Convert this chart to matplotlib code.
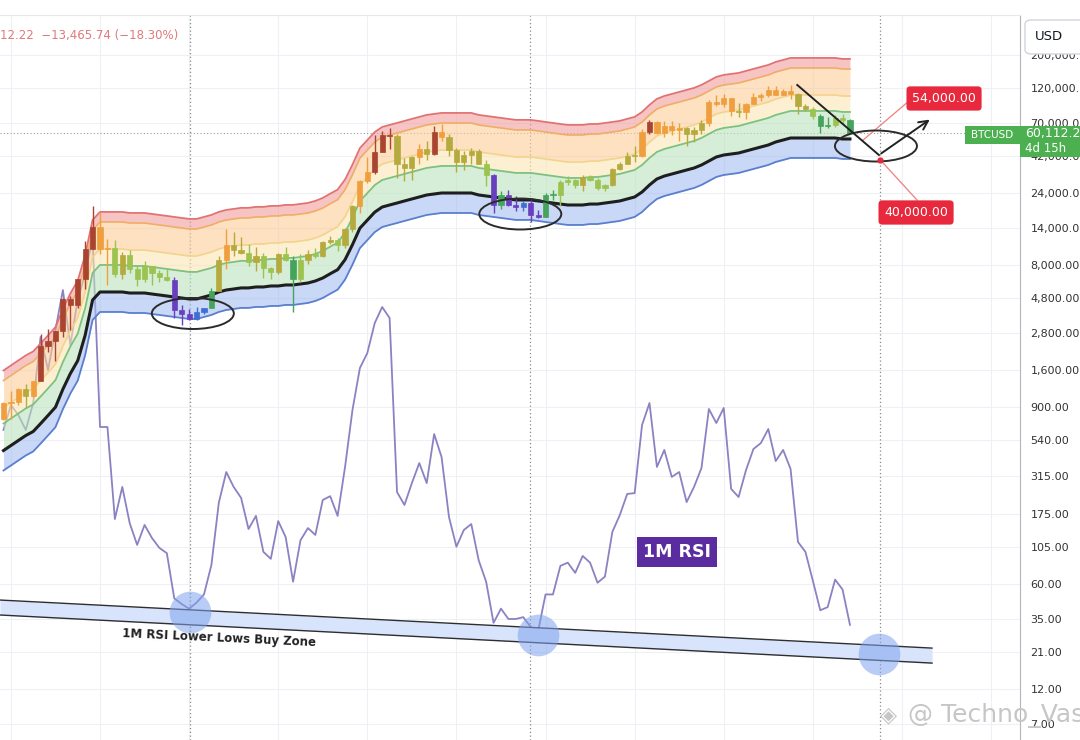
import numpy as np
import matplotlib.pyplot as plt
from matplotlib.patches import Ellipse, Rectangle, FancyBboxPatch
from matplotlib.transforms import ScaledTranslation
from matplotlib.ticker import NullLocator

plt.rcParams["font.family"] = ["DejaVu Sans"]

# monthly bars, 0 = Jan 2018 (Dec 2016 = -13 ... Jun 2026 = 101)
month = np.arange(-13, 102)

opens = [746, 964, 971, 1190, 1071, 1348, 2286, 2480, 2875, 4703, 4338, 6468, 10233,
         14156, 10221, 10397, 6973, 9240, 7494, 6404, 7780, 7037, 6626, 6318, 4017,
         3742, 3457, 3854, 4105, 5350, 8574, 10818, 10085, 9630, 8293, 9199, 7569,
         7193, 9350, 8544, 6424, 8630, 9448, 9138, 11351, 11681, 10785, 13805, 19713,
         28990, 33110, 45160, 58740, 57720, 37300, 35040, 41460, 47100, 43790, 61300, 57000,
         46210, 38480, 43160, 45510, 37630, 31790, 19930, 23310, 20050, 19430, 20490, 17170,
         16540, 23130, 23140, 28480, 29250, 27210, 30480, 29230, 25940, 26960, 34640, 37720,
         42280, 42580, 61130, 71330, 60640, 67490, 62680, 64620, 58970, 63330, 70220, 96450,
         93430, 102400, 84370, 82550, 94200, 104600, 107200, 115800, 108300, 114000, 109600, 90400,
         87500, 78000, 67500, 68500, 76000, 73578]
highs = [980, 1150, 1210, 1290, 1350, 2760, 2980, 2900, 4770, 4980, 6470, 11500, 19800,
         17700, 11800, 11700, 9760, 9990, 7780, 8500, 7800, 7400, 7500, 6580, 4300,
         4070, 4200, 4140, 5600, 9100, 13880, 13200, 12300, 10900, 10500, 9500, 7750,
         9600, 10500, 9200, 9460, 10070, 10380, 11430, 12470, 12070, 14100, 19860, 29300,
         41950, 58350, 61780, 64860, 59500, 41300, 42400, 50500, 52900, 67000, 69000, 59100,
         47990, 45800, 48200, 47450, 40000, 31990, 24670, 25200, 22800, 21090, 21480, 18390,
         23960, 25250, 29180, 31000, 29830, 31430, 31810, 30200, 27480, 35200, 38400, 44700,
         48970, 64000, 73800, 72800, 71950, 71950, 70000, 65600, 66500, 73600, 99600, 108300,
         109600, 102750, 95000, 95750, 111900, 110500, 123200, 124500, 117900, 126200, 110600, 94600,
         90000, 80000, 77000, 79000, 80000, 75000]
lows = [742, 752, 935, 890, 1060, 1340, 2100, 1840, 2650, 2950, 4100, 5500, 10100,
        9400, 5900, 6600, 6430, 7090, 5750, 6100, 5880, 6100, 6200, 3550, 3150,
        3400, 3400, 3780, 4100, 5330, 7500, 9100, 9400, 7800, 7300, 6500, 6400,
        6900, 8450, 3850, 6150, 8130, 8900, 8980, 10960, 9880, 10380, 13200, 17600,
        28130, 32300, 45000, 47000, 30000, 28800, 29300, 37300, 39600, 43300, 53300, 42000,
        32900, 34300, 37200, 37600, 26700, 17600, 18780, 19520, 18150, 18190, 15480, 16260,
        16500, 21400, 19550, 26940, 25810, 24800, 28860, 25300, 24900, 26560, 34100, 37600,
        38550, 41880, 59000, 59600, 56500, 58400, 53500, 49000, 52550, 58900, 66800, 90500,
        89200, 78200, 76600, 74400, 93400, 98200, 105300, 107400, 107300, 102000, 80600, 84400,
        75000, 60000, 65000, 66500, 69000, 59000]
closes = [964, 971, 1190, 1071, 1348, 2286, 2480, 2875, 4703, 4338, 6468, 10233, 14156,
          10221, 10397, 6973, 9240, 7494, 6404, 7780, 7037, 6626, 6318, 4017, 3742,
          3457, 3854, 4105, 5350, 8574, 10818, 10085, 9630, 8293, 9199, 7569, 7193,
          9350, 8544, 6424, 8630, 9448, 9138, 11351, 11681, 10785, 13805, 19713, 28990,
          33110, 45160, 58740, 57720, 37300, 35040, 41460, 47100, 43790, 61300, 57000, 46210,
          38480, 43160, 45510, 37630, 31790, 19930, 23310, 20050, 19430, 20490, 17170, 16540,
          23130, 23140, 28480, 29250, 27210, 30480, 29230, 25940, 26960, 34640, 37720, 42280,
          42580, 61130, 71330, 60640, 67490, 62680, 64620, 58970, 63330, 70220, 96450, 93430,
          102400, 84370, 82550, 94200, 104600, 107200, 115800, 108300, 114000, 109600, 90400, 87500,
          78000, 67500, 68500, 76000, 73578, 60112]

# thick black base line of the rainbow bands
base_line = [463, 500, 540, 583, 620, 700, 793, 900, 1186, 1505, 1837, 2715, 4655,
             5262, 5262, 5262, 5262, 5180, 5180, 5180, 5100, 5025, 4950, 4873, 4800,
             4727, 4727, 4873, 5025, 5262, 5425, 5510, 5600, 5600, 5683, 5683, 5770,
             5770, 5860, 5860, 5950, 6040, 6230, 6520, 6960, 7407, 8640, 10870, 14000,
             15830, 17900, 19350, 19970, 20580, 21240, 21900, 22580, 23280, 23640, 24000, 24000,
             24000, 24000, 24000, 23280, 22930, 22580, 22240, 21900, 21570, 21570, 21570, 21240,
             20900, 20580, 20260, 19970, 19970, 19970, 20260, 20260, 20580, 20900, 21240, 21900,
             22580, 24370, 27140, 29760, 31130, 32100, 33100, 34150, 35200, 36870, 39200, 41680,
             42970, 43630, 44300, 45690, 47120, 48580, 50090, 52460, 54080, 55770, 55770, 55770,
             55770, 55770, 55770, 55770, 54920, 54920]

# 1M RSI overlay, read in price-axis units
rsi = [635, 930, 798, 635, 959, 2640, 1590, 2940, 5420, 2335, 4655, 7000, 12000,
       664, 664, 162, 265, 152, 109, 148, 121, 104, 96, 48, 44,
       41, 45, 51, 80, 208, 333, 265, 224, 139, 170, 98, 88,
       157, 123, 62, 117, 141, 127, 217, 230, 170, 360, 862, 1640,
       2064, 3270, 4177, 3530, 245, 201, 281, 382, 281, 596, 419, 167,
       106, 137, 150, 86, 62, 33, 41, 35, 35, 36, 31, 29,
       51, 51, 79, 83, 71, 92, 83, 61, 67, 133, 172, 238,
       241, 685, 959, 360, 467, 309, 333, 210, 265, 354, 875, 706,
       889, 257, 227, 343, 474, 519, 644, 394, 467, 349, 114, 98,
       63, 40, 42, 64, 55, 32]

price_ticks = [200000, 120000, 70000, 42000, 24000, 14000, 8000, 4800, 2800, 1600,
               900, 540, 315, 175, 105, 60, 35, 21, 12, 7]
last_price = 60112.22

# band offsets above/below the base line (decades)
band_offsets = {"red": 0.533, "orange": 0.466, "yellow": 0.286, "green": 0.18, "blue": -0.133}

buy_zone_x = [-13.47, 112.05]
buy_zone_top = [46.8, 22.4]
buy_zone_bottom = [37.2, 17.8]
rsi_lows = [(12.1, 38.9), (59.0, 27.4), (104.9, 20.5)]
circled = [(12.5, 3784), (56.6, 17390), (104.5, 49320)]
marker_months = [12.12, 57.9, 105.05]

W, H = 1080, 740
fig = plt.figure(figsize=(W / 100, H / 100), dpi=100)
ax = fig.add_axes([0, 0, 1020 / W, 1 - 15 / H])
ax.set_yscale("log")

base = np.array(base_line, dtype=float)
lv = {k: base * 10 ** v for k, v in band_offsets.items()}

ax.fill_between(month, lv["red"], lv["orange"], color="#f29e9e", alpha=0.6, lw=0, zorder=2)
ax.fill_between(month, lv["orange"], lv["yellow"], color="#fccd99", alpha=0.6, lw=0, zorder=2)
ax.fill_between(month, lv["yellow"], lv["green"], color="#fce6b4", alpha=0.6, lw=0, zorder=2)
ax.fill_between(month, lv["green"], base, color="#bce4be", alpha=0.6, lw=0, zorder=2)
ax.fill_between(month, base, lv["blue"], color="#a5bef0", alpha=0.6, lw=0, zorder=2)
ax.plot(month, lv["red"], color="#e27272", lw=1.3, zorder=3)
ax.plot(month, lv["orange"], color="#f0ad68", lw=1.2, zorder=3)
ax.plot(month, lv["yellow"], color="#f2d48c", lw=1.2, zorder=3)
ax.plot(month, lv["green"], color="#7cc27e", lw=1.3, zorder=3)
ax.plot(month, base, color="#1e1e1e", lw=2.2, zorder=3)
ax.plot(month, lv["blue"], color="#5b7fcf", lw=1.3, zorder=3)

ax.plot(month, rsi, color="#8a82c2", lw=1.3, zorder=1.5)


def candle_colour(o, c, b):
    pos = np.log10(c / b)
    if pos < 0:
        return "#3f6fd4" if c >= o else "#6a3fbf"
    if pos < 0.09:
        return "#45a35c"
    if pos < 0.18:
        return "#9cc24f"
    if pos < 0.286:
        return "#b5aa3e"
    if pos < 0.40:
        return "#ef9f3e"
    return "#a8442f"


for m, o, h, l, c, b in zip(month, opens, highs, lows, closes, base_line):
    col = candle_colour(o, c, b)
    ax.vlines(m, l, h, color=col, lw=1.0, zorder=4)
    lo, hi = min(o, c), max(o, c)
    if hi / lo < 1.015:
        hi = lo * 1.015
    ax.bar(m, hi - lo, bottom=lo, width=0.7, color=col, edgecolor=col, lw=0.5, zorder=5)

# price line and vertical markers
ax.axhline(last_price, color="#9a9a9a", lw=0.8, ls=(0, (1, 2)), zorder=1)
for xm in marker_months:
    ax.axvline(xm, color="#8a8a8a", lw=0.9, ls=(0, (1, 2)), zorder=1)

# RSI buy zone channel
ax.fill_between(buy_zone_x, buy_zone_top, buy_zone_bottom, color="#d8e4fb", lw=0, zorder=2)
ax.plot(buy_zone_x, buy_zone_top, color="#2e2e2e", lw=1.0, zorder=3)
ax.plot(buy_zone_x, buy_zone_bottom, color="#2e2e2e", lw=1.0, zorder=3)
ax.plot([p[0] for p in rsi_lows], [p[1] for p in rsi_lows], "o", ms=30,
        color="#7fa3ee", alpha=0.55, mec="none", zorder=6)
ax.text(16.0, 26.2, "1M RSI Lower Lows Buy Zone", rotation=-2.7, rotation_mode="anchor",
        ha="center", va="center", fontsize=8.5, fontweight="bold", color="#222222", zorder=7)

ax.text(77.7, 97.7, "1M RSI", ha="center", va="center", color="white", fontsize=12.5,
        fontweight="bold", zorder=9,
        bbox=dict(boxstyle="square,pad=0.35", fc="#5b2ca0", ec="none"))

ax.set_xlim(-13.47, 123.9)
ax.set_ylim(5.475, 367500)

for mx, pv in circled:
    tr = fig.dpi_scale_trans + ScaledTranslation(mx, pv, ax.transData)
    ax.add_patch(Ellipse((0, 0), 0.82, 0.31, transform=tr, fill=False,
                         ec="#2b2b2b", lw=1.4, zorder=8))

# projected path and targets
ax.plot([93.9, 104.9], [125700, 42970], color="#222222", lw=1.4, zorder=8)
ax.annotate("", xy=(112.05, 75760), xytext=(104.9, 42970),
            arrowprops=dict(arrowstyle="->", color="#222222", lw=1.4, mutation_scale=16),
            zorder=8)
ax.plot([102.76, 109.1], [54000, 99840], color="#ee8a8a", lw=1.0, zorder=7)
ax.plot([105.05, 110.03], [40000, 21560], color="#ee8a8a", lw=1.0, zorder=7)
ax.plot(105.05, 40000, "o", ms=3.5, color="#e8283c", zorder=9)
for xm, pv, lab in [(113.67, 102200, "54,000.00"), (109.9, 17800, "40,000.00")]:
    ax.text(xm, pv, lab, ha="center", va="center", color="white", fontsize=9, zorder=10,
            bbox=dict(boxstyle="round,pad=0.45,rounding_size=0.3", fc="#e8283c", ec="none"))

# axes styling
ax.set_yticks(price_ticks)
ax.yaxis.set_minor_locator(NullLocator())
ax.set_yticklabels([f"{v:,.2f}" for v in price_ticks])
ax.set_xticks(np.arange(-12, 124, 12))
ax.set_xticklabels([])
ax.tick_params(axis="y", right=True, left=False, labelright=True, labelleft=False,
               length=0, pad=7.5, labelsize=8, labelcolor="#333333")
ax.tick_params(axis="x", length=0, bottom=False)
ax.grid(True, color="#edf0f4", lw=0.8, zorder=0)
ax.set_axisbelow(True)
for s in ["left", "bottom"]:
    ax.spines[s].set_visible(False)
ax.spines["right"].set_color("#b2b5be")
ax.spines["top"].set_color("#e6e8ee")


def fx(px):
    return px / W


def fy(py):
    return 1 - py / H


fig.add_artist(FancyBboxPatch((fx(1025), fy(54)), fx(70), 34 / H, transform=fig.transFigure,
                              boxstyle="round,pad=0,rounding_size=0.006",
                              fc="white", ec="#d1d4dc", lw=1))
fig.text(fx(1035), fy(36), "USD", fontsize=9.5, color="#131722", va="center")

fig.add_artist(Rectangle((fx(965), fy(144)), fx(55), 18 / H, transform=fig.transFigure,
                         fc="#4caf50", ec="none"))
fig.add_artist(Rectangle((fx(1020), fy(157)), fx(60), 31 / H, transform=fig.transFigure,
                         fc="#4caf50", ec="none"))
fig.text(fx(992), fy(135), "BTCUSD", fontsize=7.5, color="white", ha="center", va="center")
fig.text(fx(1025), fy(134), "60,112.22", fontsize=9, color="white", va="center")
fig.text(fx(1025), fy(149), "4d 15h", fontsize=8.5, color="white", va="center")

fig.text(0, fy(35), "12.22  \u221213,465.74 (\u221218.30%)", color="#e07a7a",
         fontsize=8.5, va="center")
fig.text(fx(880), fy(715), "\u25c8", fontsize=16, color="#c6c6c6", va="center")
fig.text(fx(908), fy(715), "@ Techno_Vas", fontsize=18, color="#c6c6c6", va="center")

fig.savefig("out.png", dpi=100)
